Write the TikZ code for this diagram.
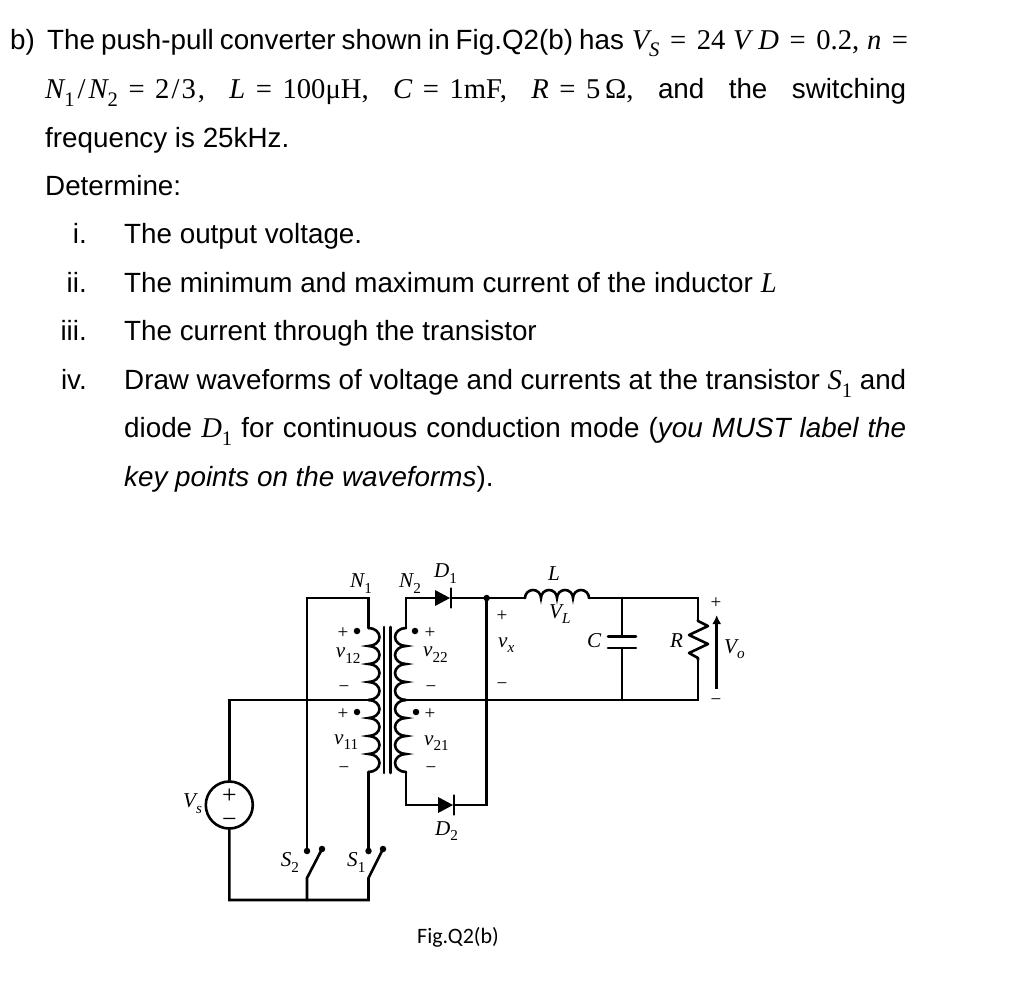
\documentclass[tikz,border=0pt]{standalone}
\usepackage{fontspec}
\setmainfont{Liberation Sans}
\newfontfamily\mf[Scale=1.03]{Liberation Serif}
\newfontfamily\capf{Carlito}
\newcommand\setsz[1]{\fontsize{#1}{#1}\selectfont\def\subsz{\fontsize{\fpeval{0.72*#1}}{#1}\selectfont}}
\newcommand\ms[2]{{\mf\itshape #1}\raisebox{-.28em}{\subsz\mf #2}}
\newcommand\mi[1]{{\mf\itshape #1}}
\newcommand\mr[1]{{\mf #1}}
\newcommand\eqs{\kern.38em{\mf=}\kern.38em}
\usetikzlibrary{arrows.meta,calc}
\tikzset{
  wire/.style={line width=2.6pt,line join=miter,line cap=round},
  txt/.style={anchor=base west,inner sep=0pt,font=\setsz{27.8}},
  num/.style={anchor=base east,inner sep=0pt,font=\setsz{27.8}},
  lab/.style={anchor=base west,inner sep=0pt,font=\setsz{20.5}},
  sym/.style={inner sep=0pt,font=\setsz{18.5}\mf},
  dotnode/.style={circle,fill=black,inner sep=0pt,minimum size=6.5pt}
}
\begin{document}
\begin{tikzpicture}[x=1pt,y=-1pt]
\useasboundingbox (0,0) rectangle (1024,1002);
% text
\node[txt] (t0) at (10,49) {b)};
\node[txt] (t1) at (47,49) {{\spaceskip=6pt The push-pull converter shown in Fig.Q2(b) has} \ms{V}{\itshape S}\eqs\mr{24} \mi{V} \mi{D}\eqs\mr{0.2,} \mi{n}\eqs};
\node[txt] (t2) at (45,98.5) {\hbox to 861pt{\ms{N}{1}\kern3pt\mr{/}\kern3pt\ms{N}{2}\eqs\mr{2\kern2pt/\kern2pt3\kern2pt,}\hfil\mi{L}\eqs\mr{100μH,}\hfil\mi{C}\eqs\mr{1mF,}\hfil\mi{R}\eqs\mr{5\,Ω,}\hfil and\hfil the\hfil switching}};
\node[txt] (t3) at (45,147) {frequency is 25kHz.};
\node[txt] (t4) at (45,195.5) {Determine:};
\node[num] (ni) at (87,243.5) {i.};
\node[txt] (li) at (124,243.5) {The output voltage.};
\node[num] (nii) at (87,292.5) {ii.};
\node[txt] (lii) at (124,292.5) {The minimum and maximum current of the inductor \mi{L}};
\node[num] (niii) at (87,340.5) {iii.};
\node[txt] (liii) at (124,340.5) {The current through the transistor};
\node[num] (niv) at (87,389.5) {iv.};
\node[txt] (liv) at (124,389.5) {\makebox[782pt][s]{Draw waveforms of voltage and currents at the transistor \ms{S}{1} and}};
\node[txt] (lv) at (124,437.5) {\makebox[782pt][s]{diode \ms{D}{1} for continuous conduction mode ({\itshape you MUST label the}}};
\node[txt] (lvi) at (124,486.5) {{\itshape key points on the waveforms}).};
% coordinates
\coordinate (pl) at (307,598);
\coordinate (p1t) at (368.5,598);
\coordinate (p1a) at (368.5,628);
\coordinate (pm) at (368.5,700);
\coordinate (p2b) at (368.5,772);
\coordinate (s1t) at (368.5,851);
\coordinate (s2t) at (307,851);
\coordinate (s1c) at (383,849);
\coordinate (s2c) at (322,849);
\coordinate (s1h) at (368.5,878);
\coordinate (s2h) at (307,878);
\coordinate (s1b) at (368.5,900);
\coordinate (s2b) at (307,900);
\coordinate (vb) at (229.3,900);
\coordinate (vt) at (229.3,700);
\coordinate (q1t) at (406,598);
\coordinate (q1a) at (406,628);
\coordinate (qm) at (406,700);
\coordinate (q2b) at (406,772);
\coordinate (q2r) at (406,805);
\coordinate (d1a) at (435,598);
\coordinate (d1k) at (451,598);
\coordinate (jx) at (486.7,598);
\coordinate (jb) at (486.7,700);
\coordinate (jd) at (486.7,805);
\coordinate (d2a) at (438,805);
\coordinate (d2k) at (454,805);
\coordinate (la) at (525,598);
\coordinate (lb) at (589,598);
\coordinate (ct) at (622,598);
\coordinate (cu) at (622,636.5);
\coordinate (cl) at (622,648);
\coordinate (cb) at (622,700);
\coordinate (rt) at (698,598);
\coordinate (ru) at (698,620);
\coordinate (rl) at (698,660);
\coordinate (rb) at (698,700);
\coordinate (ab) at (716.7,689);
\coordinate (at) at (716.7,615);
% source
\node[circle,draw,line width=2.6pt,minimum size=47pt,inner sep=0pt] (src) at (229.3,805) {};
\node[inner sep=0pt,font=\setsz{25}\mf] (sp) at (229.3,796) {+};
\node[inner sep=0pt,font=\setsz{25}\mf] (sm) at (229.3,823) {−};
% wires
\draw[wire] (p1a) -- (p1t) -- (pl) -- (s2t);
\draw[wire] (src.north) -- (vt) -- (pm);
\draw[wire] (src.south) -- (vb) -- (s1b) -- (s1h) -- (s1c);
\draw[wire] (s2b) -- (s2h) -- (s2c);
\draw[wire] (p2b) -- (s1t);
\draw[wire] (q1a) -- (q1t) -- (d1a);
\draw[wire] (d1k) -- (la);
\draw[wire] (jx) -- (jd) -- (d2k);
\draw[wire] (qm) -- (jb) -- (rb) -- (rl);
\draw[wire] (q2b) -- (q2r) -- (d2a);
\draw[wire] (lb) -- (rt) -- (ru);
\draw[wire] (ct) -- (cu);
\draw[wire] (cl) -- (cb);
\draw[wire,line join=round] (ru) -- ++(0,1) -- ++(10,5) -- ++(-19,9) -- ++(19,9) -- ++(-19,9) -- ++(9,5) -- (rl);
% capacitor plates
\draw[wire] ($(cu)+(-14,0)$) -- ($(cu)+(14,0)$);
\draw[wire] ($(cl)+(-14,0)$) -- ($(cl)+(14,0)$);
% coils
\foreach \s in {p1a,pm}{
  \draw[wire] (\s) arc[start angle=90,end angle=-90,x radius=11pt,y radius=9pt]
    arc[start angle=90,end angle=-90,x radius=11pt,y radius=9pt]
    arc[start angle=90,end angle=-90,x radius=11pt,y radius=9pt]
    arc[start angle=90,end angle=-90,x radius=11pt,y radius=9pt];}
\foreach \s in {q1a,qm}{
  \draw[wire] (\s) arc[start angle=90,end angle=270,x radius=11pt,y radius=9pt]
    arc[start angle=90,end angle=270,x radius=11pt,y radius=9pt]
    arc[start angle=90,end angle=270,x radius=11pt,y radius=9pt]
    arc[start angle=90,end angle=270,x radius=11pt,y radius=9pt];}
\draw[wire] (la) arc[start angle=180,end angle=0,radius=8pt]
  arc[start angle=180,end angle=0,radius=8pt]
  arc[start angle=180,end angle=0,radius=8pt]
  arc[start angle=180,end angle=0,radius=8pt];
% core
\draw[wire] (384,627) -- (384,773);
\draw[wire] (390.7,627) -- (390.7,773);
% diodes
\fill (d1a) ++(0,-8) -- ++(15,8) -- ++(-15,8) -- cycle;
\draw[wire] (d1k) ++(0,-9.5) -- ++(0,19);
\fill (d2a) ++(0,-8) -- ++(15,8) -- ++(-15,8) -- cycle;
\draw[wire] (d2k) ++(0,-9.5) -- ++(0,19);
% dots
\node[dotnode] (jdot) at (jx) {};
\node[dotnode] (d1) at (357,631) {};
\node[dotnode] (d2) at (415,631) {};
\node[dotnode] (d3) at (357,712) {};
\node[dotnode] (d4) at (416,712) {};
\node[dotnode] (d5) at (s1t) {};
\node[dotnode] (d6) at (s2t) {};
\node[dotnode] (d7) at (s1c) {};
\node[dotnode] (d8) at (s2c) {};
% arrow
\draw[wire,line cap=butt,-{Latex[length=9pt,width=9pt]}] (ab) -- (at);
% labels
\node[lab] (lN1) at (350,587.7) {\ms{N}{1}};
\node[lab] (lN2) at (399,587.7) {\ms{N}{2}};
\node[lab] (lD1) at (434,577.7) {\ms{D}{1}};
\node[lab] (lD2) at (435,835) {\ms{D}{2}};
\node[lab] (lS2) at (280.7,866.7) {\ms{S}{2}};
\node[lab] (lS1) at (347,866.7) {\ms{S}{1}};
\node[lab] (lVs) at (183,807.7) {\ms{V}{\itshape s}};
\node[lab] (l12) at (335.7,657.7) {\ms{v}{12}};
\node[lab] (l22) at (423,656.7) {\ms{v}{22}};
\node[lab] (l11) at (334,744) {\ms{v}{11}};
\node[lab] (l21) at (424,745) {\ms{v}{21}};
\node[lab] (lvx) at (498,647) {\ms{v}{\itshape x}};
\node[lab] (lL) at (548,580) {\mi{L}};
\node[lab] (lVL) at (549,618) {\ms{V}{\itshape L}};
\node[lab] (lC) at (587,647.7) {\mi{C}};
\node[lab] (lR) at (670,647.7) {\mi{R}};
\node[lab] (lVo) at (724,653) {\ms{V}{\itshape o}};
\foreach \n/\x/\y in {a/343/633,b/430/633,c/343/714,d/430/714,e/502/616,f/716/603}
  \node[sym] (p\n) at (\x,\y) {+};
\foreach \n/\x/\y in {a/344/689,b/431/689,c/344/770,d/431/770,e/502/686,f/716/702}
  \node[sym] (m\n) at (\x,\y) {−};
\node[inner sep=0pt,font=\setsz{22}\capf] (cap) at (458,937) {Fig.Q2(b)};
\end{tikzpicture}
\end{document}
